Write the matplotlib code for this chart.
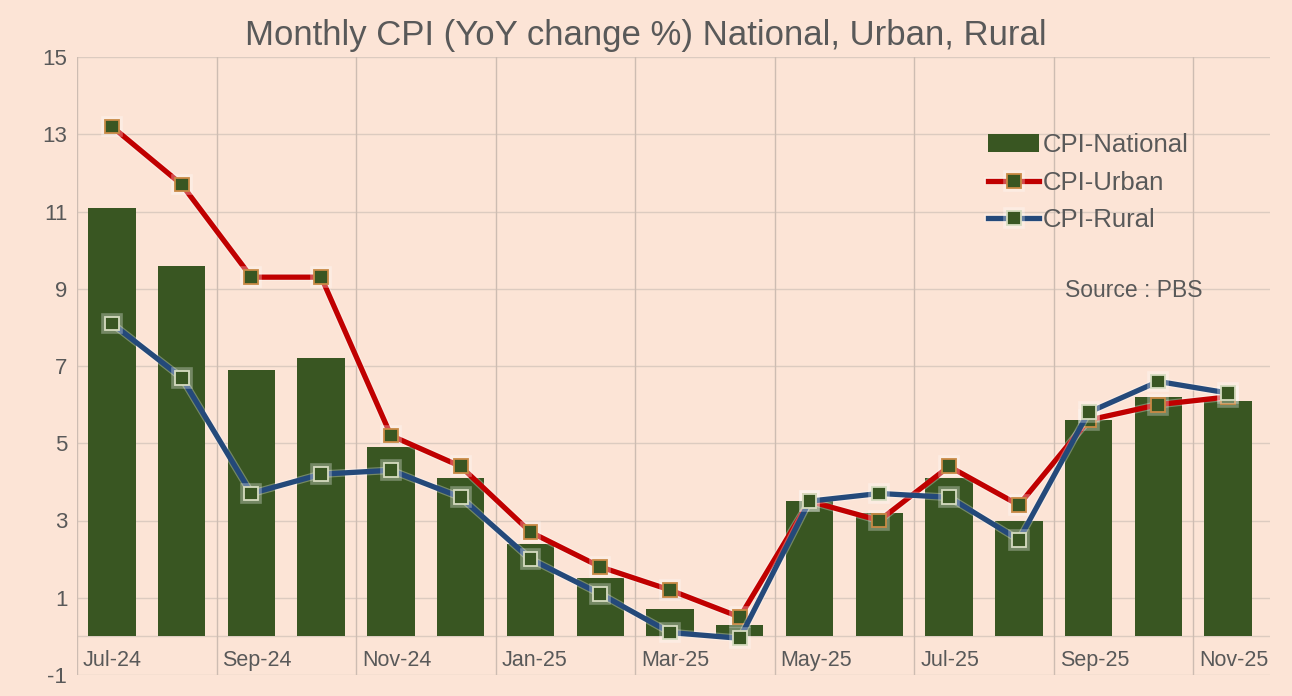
import matplotlib
matplotlib.use("Agg")
import matplotlib.pyplot as plt
import matplotlib.patheffects as pe
import matplotlib.transforms as mtransforms
import numpy as np

months = ["Jul-24", "Aug-24", "Sep-24", "Oct-24", "Nov-24", "Dec-24", "Jan-25", "Feb-25",
          "Mar-25", "Apr-25", "May-25", "Jun-25", "Jul-25", "Aug-25", "Sep-25", "Oct-25", "Nov-25"]
cpi_national = [11.1, 9.6, 6.9, 7.2, 4.9, 4.1, 2.4, 1.5, 0.7, 0.3, 3.5, 3.2, 4.1, 3.0, 5.6, 6.2, 6.1]
cpi_urban = [13.2, 11.7, 9.3, 9.3, 5.2, 4.4, 2.7, 1.8, 1.2, 0.5, 3.5, 3.0, 4.4, 3.4, 5.6, 6.0, 6.2]
cpi_rural = [8.1, 6.7, 3.7, 4.2, 4.3, 3.6, 2.0, 1.1, 0.1, -0.05, 3.5, 3.7, 3.6, 2.5, 5.8, 6.6, 6.3]
y_ticks = [-1, 1, 3, 5, 7, 9, 11, 13, 15]
title = "Monthly CPI (YoY change %) National, Urban, Rural"
source = "Source : PBS"

BG = "#fce4d6"
GRID = "#dccbc0"
VGRID = "#cdbcb2"
TXT = "#595959"
BAR = "#395622"
RED = "#c00000"
BLUE = "#24497a"

plt.rcParams['font.family'] = ['Liberation Sans', 'DejaVu Sans']

fig = plt.figure(figsize=(12.92, 6.96), dpi=100, facecolor=BG)
ax = fig.add_axes([77/1292, 21/696, (1270-77)/1292, (675-57)/696])
ax.set_facecolor(BG)

x = np.arange(len(months))
ax.set_xlim(-0.5, len(months) - 0.5 + 0.1)
ax.set_ylim(-1, 15)

# gridlines
for yv in y_ticks:
    ax.axhline(yv, color=GRID, lw=1.0, zorder=0)
ax.axhline(0, color=GRID, lw=1.0, zorder=0)
bounds = np.arange(-0.5, len(months) - 0.5, 2)
for b in bounds:
    ax.axvline(b, color=VGRID, lw=1.0, zorder=0)

ax.bar(x, cpi_national, width=0.68, color=BAR, zorder=2, label="CPI-National")

glow = [pe.Stroke(linewidth=5.5, foreground="white", alpha=0.3), pe.Normal()]
ax.plot(x, cpi_urban, color=RED, lw=3.8, marker="s", markersize=10,
        markerfacecolor=BAR, markeredgecolor="#c98a45", markeredgewidth=1.3,
        zorder=3, label="CPI-Urban", path_effects=glow)
ax.plot(x, cpi_rural, color=BLUE, lw=3.8, marker="s", markersize=10,
        markerfacecolor=BAR, markeredgecolor="#d6dcc0", markeredgewidth=1.3,
        zorder=4, label="CPI-Rural", path_effects=glow)

for s in ax.spines.values():
    s.set_visible(False)

ax.set_yticks(y_ticks)
ax.set_yticklabels([str(v) for v in y_ticks])
ax.tick_params(axis="y", length=0, pad=7, labelsize=16, labelcolor=TXT)
ax.set_xticks([])

off = mtransforms.ScaledTranslation(6/100, 0, fig.dpi_scale_trans)
for b in bounds:
    i = int(b + 0.5)
    ax.text(b, -0.62, months[i], ha="left", va="center", fontsize=15.5, color=TXT,
            transform=ax.transData + off)

fig.text(0.5, 1 - 35/696, title, ha="center", va="center", fontsize=25, color=TXT)
fig.text(1065/1292, 1 - 290/696, source, ha="left", va="center", fontsize=16.5, color=TXT)

handles, labels = ax.get_legend_handles_labels()
order = [labels.index("CPI-National"), labels.index("CPI-Urban"), labels.index("CPI-Rural")]
ax.legend([handles[i] for i in order], [labels[i] for i in order],
          loc="upper left", bbox_to_anchor=(988/1292, 1 - 133/696),
          bbox_transform=fig.transFigure, frameon=False, fontsize=18.5,
          labelcolor=TXT, handlelength=2.0, handletextpad=0.15, labelspacing=0.53,
          borderaxespad=0, borderpad=0)

fig.savefig("out.png", dpi=100, facecolor=BG)
